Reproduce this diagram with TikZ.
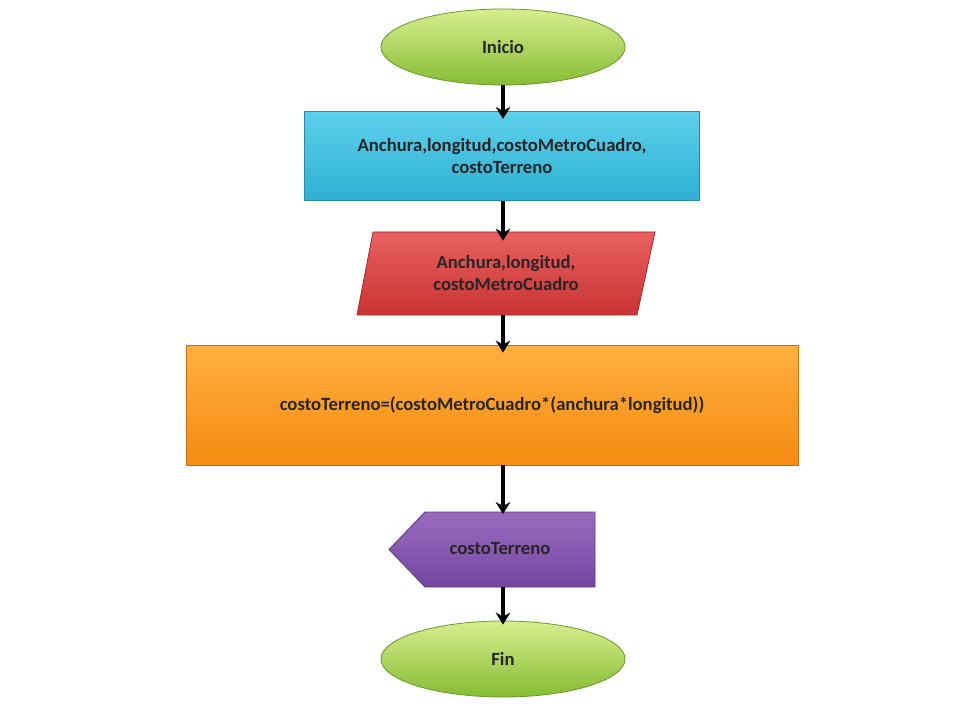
\documentclass[tikz,border=0pt]{standalone}
\usepackage{fontspec}
\setmainfont{Carlito}
\usetikzlibrary{shapes.geometric,arrows.meta}
\definecolor{gtop}{HTML}{D8EE8E}\definecolor{gbot}{HTML}{86BC34}
\definecolor{btop}{HTML}{5CD0EC}\definecolor{bbot}{HTML}{2FB0D2}
\definecolor{rtop}{HTML}{EA6060}\definecolor{rbot}{HTML}{C83434}
\definecolor{otop}{HTML}{FFB040}\definecolor{obot}{HTML}{F58A10}
\definecolor{ptop}{HTML}{9A6CC0}\definecolor{pbot}{HTML}{7446A0}
\begin{document}
\begin{tikzpicture}[x=0.75pt,y=-0.75pt,
  txt/.style={font=\bfseries\fontsize{14}{17}\selectfont, align=center, text=black!85},
  term/.style={txt, ellipse, minimum width=183pt, minimum height=57pt, top color=gtop, bottom color=gbot, draw=gbot!80!black, line width=0.6pt},
  box/.style={txt, rectangle, draw=#1!80!black, line width=0.6pt},
  arr/.style={-{Stealth[length=9pt,width=11pt]}, line width=2.4pt}]
\useasboundingbox (0,0) rectangle (960,720);
\fill[white] (0,0) rectangle (960,720);
\node[term] (a) at (503,47) {Inicio};
\node[box=bbot, top color=btop, bottom color=bbot, minimum width=296pt, minimum height=67pt] (b) at (502,156) {Anchura,longitud,costoMetroCuadro,\\costoTerreno};
\node[txt, minimum width=210pt, minimum height=62pt] (c) at (506,273) {Anchura,longitud,\\costoMetroCuadro};
\begin{scope}[on background layer/.style={}]
\end{scope}
\path[top color=rtop, bottom color=rbot, draw=rbot!80!black, line width=0.6pt]
  (373,232) -- (655,232) -- (637,315) -- (357,315) -- cycle;
\node[txt] at (c) {Anchura,longitud,\\costoMetroCuadro};
\node[box=obot, top color=otop, bottom color=obot, minimum width=459pt, minimum height=90pt] (d) at (492,405) {costoTerreno=(costoMetroCuadro*(anchura*longitud))};
\node[txt, minimum width=150pt, minimum height=56pt] (e) at (492,549) {};
\path[top color=ptop, bottom color=pbot, draw=pbot!80!black, line width=0.6pt]
  (425,512) -- (595,512) -- (595,587) -- (425,587) -- (389,549.5) -- cycle;
\node[txt] at (500,549) {costoTerreno};
\node[term] (f) at (503,659) {Fin};
\draw[arr] (a.south) -- ([yshift=-6pt]b.north -| a.south);
\draw[arr] (b.south -| a.south) -- ([yshift=-7pt]c.north -| a.south);
\draw[arr] ([yshift=0pt]c.south -| a.south) -- ([yshift=-6pt]d.north -| a.south);
\draw[arr] (d.south -| a.south) -- ([yshift=-2pt]e.north -| a.south);
\draw[arr] (e.south -| a.south) -- ([yshift=-3pt]f.north);
\end{tikzpicture}
\end{document}
